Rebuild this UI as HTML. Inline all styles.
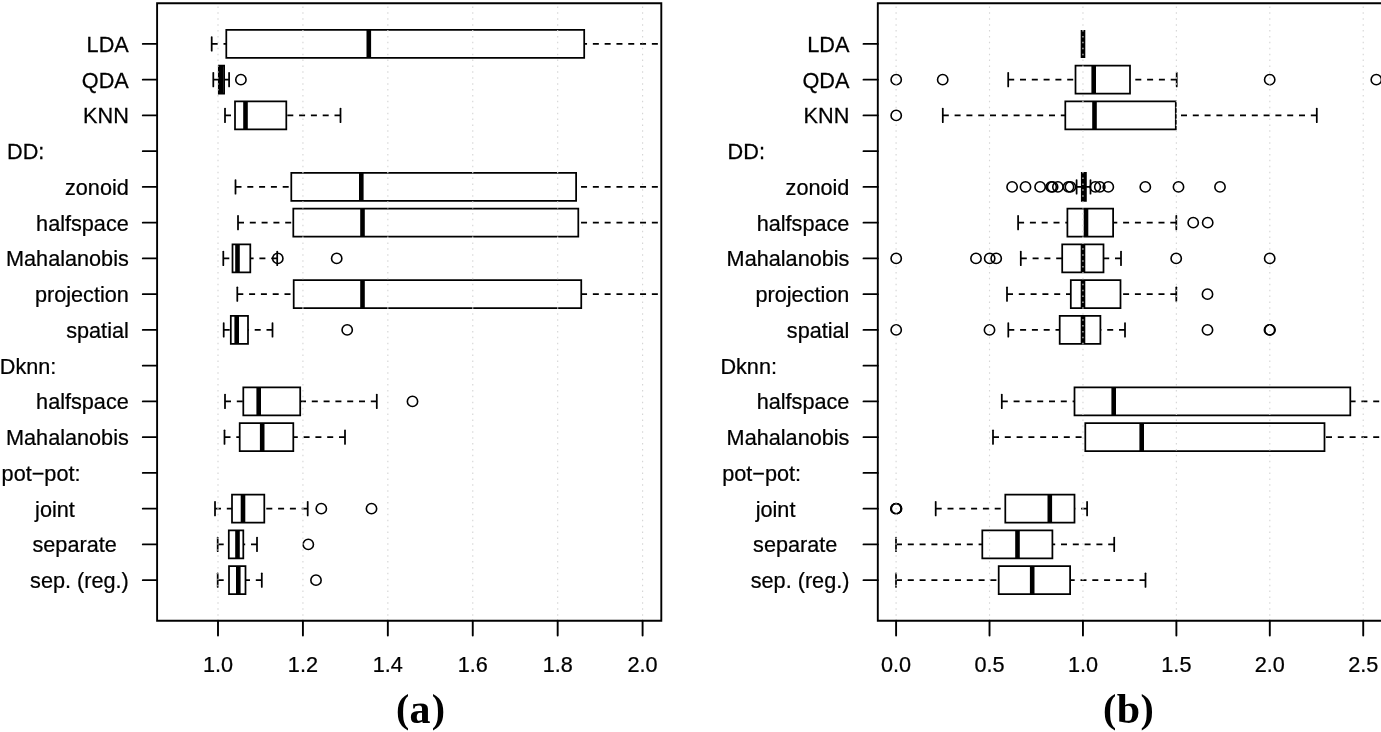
<!DOCTYPE html>
<html><head><meta charset="utf-8"><title>Boxplots</title>
<style>
html,body{margin:0;padding:0;background:#fff}
svg{display:block}
.l{fill:none;stroke:#000;stroke-width:1.75;stroke-linecap:round;stroke-linejoin:miter}
.f{stroke-width:1.9}
.o{fill:none;stroke:#000;stroke-width:1.6}
.w{fill:none;stroke:#000;stroke-width:1.75;stroke-dasharray:6 5.8}
.m{fill:none;stroke:#000;stroke-width:4.6}
.g{fill:none;stroke:#d6d6d6;stroke-width:1.15;stroke-dasharray:1.5 4.4;stroke-dashoffset:2.65}
.t{font-family:"Liberation Sans",sans-serif;font-size:22.1px;fill:#000;stroke:#000;stroke-width:0.25}
.c{font-family:"Liberation Serif",serif;font-weight:bold;font-size:42px;fill:#000}
.p{font-size:39.9px}
</style></head><body>
<svg width="1381" height="732" viewBox="0 0 1381 732">
<rect width="1381" height="732" fill="#fff"/>
<defs>
<clipPath id="cl"><rect x="157.1" y="3.2" width="504.2" height="617.6"/></clipPath>
<clipPath id="cr"><rect x="877.8" y="3.2" width="522.2" height="617.6"/></clipPath>
</defs>
<g clip-path="url(#cl)">
<path class="w" d="M211.7 43.9H226.3"/>
<path class="w" d="M669.65 43.9H584.2"/>
<path class="l" d="M211.7 37.1V50.7"/>
<path class="l" d="M226.3 29.9H584.2V57.9H226.3Z"/>
<path class="m" d="M368.8 29.9V57.9"/>
<path class="w" d="M213.3 79.65H218.8"/>
<path class="w" d="M229.1 79.65H224.1"/>
<path class="l" d="M213.3 72.85V86.45"/>
<path class="l" d="M229.1 72.85V86.45"/>
<path class="l" d="M218.8 65.65H224.1V93.65H218.8Z"/>
<path class="m" d="M221.1 65.65V93.65"/>
<circle class="o" cx="240.9" cy="79.65" r="5.15"/>
<path class="w" d="M225 115.4H235"/>
<path class="w" d="M340.5 115.4H286.3"/>
<path class="l" d="M225 108.6V122.2"/>
<path class="l" d="M340.5 108.6V122.2"/>
<path class="l" d="M235 101.4H286.3V129.4H235Z"/>
<path class="m" d="M245.5 101.4V129.4"/>
<path class="w" d="M235.5 186.9H291.3"/>
<path class="w" d="M669.65 186.9H576.1"/>
<path class="l" d="M235.5 180.1V193.7"/>
<path class="l" d="M291.3 172.9H576.1V200.9H291.3Z"/>
<path class="m" d="M361.3 172.9V200.9"/>
<path class="w" d="M238 222.65H293.3"/>
<path class="w" d="M669.65 222.65H578.3"/>
<path class="l" d="M238 215.85V229.45"/>
<path class="l" d="M293.3 208.65H578.3V236.65H293.3Z"/>
<path class="m" d="M362.5 208.65V236.65"/>
<path class="w" d="M223.3 258.4H232.5"/>
<path class="w" d="M277.2 258.4H250.3"/>
<path class="l" d="M223.3 251.6V265.2"/>
<path class="l" d="M277.2 251.6V265.2"/>
<path class="l" d="M232.5 244.4H250.3V272.4H232.5Z"/>
<path class="m" d="M237.5 244.4V272.4"/>
<circle class="o" cx="277.8" cy="258.4" r="5.15"/>
<circle class="o" cx="336.7" cy="258.4" r="5.15"/>
<path class="w" d="M237.3 294.15H293.7"/>
<path class="w" d="M669.65 294.15H581.25"/>
<path class="l" d="M237.3 287.35V300.95"/>
<path class="l" d="M293.7 280.15H581.25V308.15H293.7Z"/>
<path class="m" d="M362.5 280.15V308.15"/>
<path class="w" d="M223.7 329.9H230.8"/>
<path class="w" d="M272.5 329.9H248"/>
<path class="l" d="M223.7 323.1V336.7"/>
<path class="l" d="M272.5 323.1V336.7"/>
<path class="l" d="M230.8 315.9H248V343.9H230.8Z"/>
<path class="m" d="M236.7 315.9V343.9"/>
<circle class="o" cx="347.2" cy="329.9" r="5.15"/>
<path class="w" d="M225 401.4H243.3"/>
<path class="w" d="M376.8 401.4H300.2"/>
<path class="l" d="M225 394.6V408.2"/>
<path class="l" d="M376.8 394.6V408.2"/>
<path class="l" d="M243.3 387.4H300.2V415.4H243.3Z"/>
<path class="m" d="M258.7 387.4V415.4"/>
<circle class="o" cx="412.5" cy="401.4" r="5.15"/>
<path class="w" d="M224.5 437.15H239.7"/>
<path class="w" d="M345 437.15H293.3"/>
<path class="l" d="M224.5 430.35V443.95"/>
<path class="l" d="M345 430.35V443.95"/>
<path class="l" d="M239.7 423.15H293.3V451.15H239.7Z"/>
<path class="m" d="M262.2 423.15V451.15"/>
<path class="w" d="M215 508.65H232"/>
<path class="w" d="M307.7 508.65H264.3"/>
<path class="l" d="M215 501.85V515.45"/>
<path class="l" d="M307.7 501.85V515.45"/>
<path class="l" d="M232 494.65H264.3V522.65H232Z"/>
<path class="m" d="M243 494.65V522.65"/>
<circle class="o" cx="321.3" cy="508.65" r="5.15"/>
<circle class="o" cx="371.5" cy="508.65" r="5.15"/>
<path class="w" d="M217.7 544.4H228.8"/>
<path class="w" d="M257 544.4H243.3"/>
<path class="l" d="M217.7 537.6V551.2"/>
<path class="l" d="M257 537.6V551.2"/>
<path class="l" d="M228.8 530.4H243.3V558.4H228.8Z"/>
<path class="m" d="M237.5 530.4V558.4"/>
<circle class="o" cx="308.3" cy="544.4" r="5.15"/>
<path class="w" d="M217.7 580.15H229"/>
<path class="w" d="M261.8 580.15H245.5"/>
<path class="l" d="M217.7 573.35V586.95"/>
<path class="l" d="M261.8 573.35V586.95"/>
<path class="l" d="M229 566.15H245.5V594.15H229Z"/>
<path class="m" d="M238.3 566.15V594.15"/>
<circle class="o" cx="316" cy="580.15" r="5.15"/>
<path class="g" d="M218 3.2V620.8"/>
<path class="g" d="M302.92 3.2V620.8"/>
<path class="g" d="M387.84 3.2V620.8"/>
<path class="g" d="M472.76 3.2V620.8"/>
<path class="g" d="M557.68 3.2V620.8"/>
<path class="g" d="M642.6 3.2V620.8"/>
</g>
<g clip-path="url(#cr)">
<path class="l" d="M1083 37.1V50.7"/>
<path class="l" d="M1083 37.1V50.7"/>
<path class="l" d="M1083 29.9H1083V57.9H1083Z"/>
<path class="m" d="M1083 29.9V57.9"/>
<path class="w" d="M1008.2 79.65H1075.5"/>
<path class="w" d="M1176.7 79.65H1130"/>
<path class="l" d="M1008.2 72.85V86.45"/>
<path class="l" d="M1176.7 72.85V86.45"/>
<path class="l" d="M1075.5 65.65H1130V93.65H1075.5Z"/>
<path class="m" d="M1093.7 65.65V93.65"/>
<circle class="o" cx="896.2" cy="79.65" r="5.15"/>
<circle class="o" cx="942.7" cy="79.65" r="5.15"/>
<circle class="o" cx="1269.7" cy="79.65" r="5.15"/>
<circle class="o" cx="1376.3" cy="79.65" r="5.15"/>
<path class="w" d="M942.8 115.4H1065.3"/>
<path class="w" d="M1316.8 115.4H1175.8"/>
<path class="l" d="M942.8 108.6V122.2"/>
<path class="l" d="M1316.8 108.6V122.2"/>
<path class="l" d="M1065.3 101.4H1175.8V129.4H1065.3Z"/>
<path class="m" d="M1094.5 101.4V129.4"/>
<circle class="o" cx="896.2" cy="115.4" r="5.15"/>
<path class="w" d="M1076.6 186.9H1081.8"/>
<path class="w" d="M1090.5 186.9H1085.9"/>
<path class="l" d="M1076.6 180.1V193.7"/>
<path class="l" d="M1090.5 180.1V193.7"/>
<path class="l" d="M1081.8 172.9H1085.9V200.9H1081.8Z"/>
<path class="m" d="M1083.7 172.9V200.9"/>
<circle class="o" cx="1012.1" cy="186.9" r="5.15"/>
<circle class="o" cx="1025.5" cy="186.9" r="5.15"/>
<circle class="o" cx="1040.1" cy="186.9" r="5.15"/>
<circle class="o" cx="1051.2" cy="186.9" r="5.15"/>
<circle class="o" cx="1052.6" cy="186.9" r="5.15"/>
<circle class="o" cx="1057.9" cy="186.9" r="5.15"/>
<circle class="o" cx="1068.5" cy="186.9" r="5.15"/>
<circle class="o" cx="1070.4" cy="186.9" r="5.15"/>
<circle class="o" cx="1095.3" cy="186.9" r="5.15"/>
<circle class="o" cx="1099.8" cy="186.9" r="5.15"/>
<circle class="o" cx="1108.3" cy="186.9" r="5.15"/>
<circle class="o" cx="1145.3" cy="186.9" r="5.15"/>
<circle class="o" cx="1178.5" cy="186.9" r="5.15"/>
<circle class="o" cx="1220" cy="186.9" r="5.15"/>
<path class="w" d="M1018.1 222.65H1067.4"/>
<path class="w" d="M1176.3 222.65H1113.1"/>
<path class="l" d="M1018.1 215.85V229.45"/>
<path class="l" d="M1176.3 215.85V229.45"/>
<path class="l" d="M1067.4 208.65H1113.1V236.65H1067.4Z"/>
<path class="m" d="M1086 208.65V236.65"/>
<circle class="o" cx="1193.2" cy="222.65" r="5.15"/>
<circle class="o" cx="1207.7" cy="222.65" r="5.15"/>
<path class="w" d="M1020.8 258.4H1062.2"/>
<path class="w" d="M1121 258.4H1103.5"/>
<path class="l" d="M1020.8 251.6V265.2"/>
<path class="l" d="M1121 251.6V265.2"/>
<path class="l" d="M1062.2 244.4H1103.5V272.4H1062.2Z"/>
<path class="m" d="M1083 244.4V272.4"/>
<circle class="o" cx="896.2" cy="258.4" r="5.15"/>
<circle class="o" cx="976" cy="258.4" r="5.15"/>
<circle class="o" cx="989.7" cy="258.4" r="5.15"/>
<circle class="o" cx="996.2" cy="258.4" r="5.15"/>
<circle class="o" cx="1176.2" cy="258.4" r="5.15"/>
<circle class="o" cx="1269.7" cy="258.4" r="5.15"/>
<path class="w" d="M1007 294.15H1070.8"/>
<path class="w" d="M1176.3 294.15H1120.5"/>
<path class="l" d="M1007 287.35V300.95"/>
<path class="l" d="M1176.3 287.35V300.95"/>
<path class="l" d="M1070.8 280.15H1120.5V308.15H1070.8Z"/>
<path class="m" d="M1083 280.15V308.15"/>
<circle class="o" cx="1207.5" cy="294.15" r="5.15"/>
<path class="w" d="M1008.3 329.9H1059.7"/>
<path class="w" d="M1125 329.9H1100.4"/>
<path class="l" d="M1008.3 323.1V336.7"/>
<path class="l" d="M1125 323.1V336.7"/>
<path class="l" d="M1059.7 315.9H1100.4V343.9H1059.7Z"/>
<path class="m" d="M1083 315.9V343.9"/>
<circle class="o" cx="896.2" cy="329.9" r="5.15"/>
<circle class="o" cx="989.5" cy="329.9" r="5.15"/>
<circle class="o" cx="1207.5" cy="329.9" r="5.15"/>
<circle class="o" cx="1269.5" cy="329.9" r="5.15"/>
<circle class="o" cx="1270" cy="329.9" r="5.15"/>
<path class="w" d="M1001.8 401.4H1074.5"/>
<path class="w" d="M1391 401.4H1350.3"/>
<path class="l" d="M1001.8 394.6V408.2"/>
<path class="l" d="M1074.5 387.4H1350.3V415.4H1074.5Z"/>
<path class="m" d="M1113.7 387.4V415.4"/>
<path class="w" d="M993 437.15H1085.3"/>
<path class="w" d="M1391 437.15H1324.5"/>
<path class="l" d="M993 430.35V443.95"/>
<path class="l" d="M1085.3 423.15H1324.5V451.15H1085.3Z"/>
<path class="m" d="M1141.7 423.15V451.15"/>
<path class="w" d="M935.7 508.65H1005.3"/>
<path class="w" d="M1087.1 508.65H1074.5"/>
<path class="l" d="M935.7 501.85V515.45"/>
<path class="l" d="M1087.1 501.85V515.45"/>
<path class="l" d="M1005.3 494.65H1074.5V522.65H1005.3Z"/>
<path class="m" d="M1049.8 494.65V522.65"/>
<circle class="o" cx="895.9" cy="508.65" r="5.15"/>
<circle class="o" cx="896.2" cy="508.65" r="5.15"/>
<circle class="o" cx="896.5" cy="508.65" r="5.15"/>
<path class="w" d="M896 544.4H982.3"/>
<path class="w" d="M1114.2 544.4H1052.4"/>
<path class="l" d="M896 537.6V551.2"/>
<path class="l" d="M1114.2 537.6V551.2"/>
<path class="l" d="M982.3 530.4H1052.4V558.4H982.3Z"/>
<path class="m" d="M1017.5 530.4V558.4"/>
<path class="w" d="M896 580.15H998.7"/>
<path class="w" d="M1145.5 580.15H1070.1"/>
<path class="l" d="M896 573.35V586.95"/>
<path class="l" d="M1145.5 573.35V586.95"/>
<path class="l" d="M998.7 566.15H1070.1V594.15H998.7Z"/>
<path class="m" d="M1032.2 566.15V594.15"/>
<path class="g" d="M896.1 3.2V620.8"/>
<path class="g" d="M989.52 3.2V620.8"/>
<path class="g" d="M1082.95 3.2V620.8"/>
<path class="g" d="M1176.38 3.2V620.8"/>
<path class="g" d="M1269.8 3.2V620.8"/>
<path class="g" d="M1363.22 3.2V620.8"/>
</g>
<path class="l f" d="M157.1 3.2H661.3V620.8H157.1Z"/>
<path class="l f" d="M157.1 43.9h-14.3"/>
<path class="l f" d="M157.1 79.65h-14.3"/>
<path class="l f" d="M157.1 115.4h-14.3"/>
<path class="l f" d="M157.1 151.15h-14.3"/>
<path class="l f" d="M157.1 186.9h-14.3"/>
<path class="l f" d="M157.1 222.65h-14.3"/>
<path class="l f" d="M157.1 258.4h-14.3"/>
<path class="l f" d="M157.1 294.15h-14.3"/>
<path class="l f" d="M157.1 329.9h-14.3"/>
<path class="l f" d="M157.1 365.65h-14.3"/>
<path class="l f" d="M157.1 401.4h-14.3"/>
<path class="l f" d="M157.1 437.15h-14.3"/>
<path class="l f" d="M157.1 472.9h-14.3"/>
<path class="l f" d="M157.1 508.65h-14.3"/>
<path class="l f" d="M157.1 544.4h-14.3"/>
<path class="l f" d="M157.1 580.15h-14.3"/>
<path class="l f" d="M218 620.8v14.8"/>
<text class="t" transform="translate(218 671.6) scale(0.98 1)" text-anchor="middle">1.0</text>
<path class="l f" d="M302.92 620.8v14.8"/>
<text class="t" transform="translate(302.92 671.6) scale(0.98 1)" text-anchor="middle">1.2</text>
<path class="l f" d="M387.84 620.8v14.8"/>
<text class="t" transform="translate(387.84 671.6) scale(0.98 1)" text-anchor="middle">1.4</text>
<path class="l f" d="M472.76 620.8v14.8"/>
<text class="t" transform="translate(472.76 671.6) scale(0.98 1)" text-anchor="middle">1.6</text>
<path class="l f" d="M557.68 620.8v14.8"/>
<text class="t" transform="translate(557.68 671.6) scale(0.98 1)" text-anchor="middle">1.8</text>
<path class="l f" d="M642.6 620.8v14.8"/>
<text class="t" transform="translate(642.6 671.6) scale(0.98 1)" text-anchor="middle">2.0</text>
<path class="l f" d="M877.8 3.2H1400V620.8H877.8Z"/>
<path class="l f" d="M877.8 43.9h-14.3"/>
<path class="l f" d="M877.8 79.65h-14.3"/>
<path class="l f" d="M877.8 115.4h-14.3"/>
<path class="l f" d="M877.8 151.15h-14.3"/>
<path class="l f" d="M877.8 186.9h-14.3"/>
<path class="l f" d="M877.8 222.65h-14.3"/>
<path class="l f" d="M877.8 258.4h-14.3"/>
<path class="l f" d="M877.8 294.15h-14.3"/>
<path class="l f" d="M877.8 329.9h-14.3"/>
<path class="l f" d="M877.8 365.65h-14.3"/>
<path class="l f" d="M877.8 401.4h-14.3"/>
<path class="l f" d="M877.8 437.15h-14.3"/>
<path class="l f" d="M877.8 472.9h-14.3"/>
<path class="l f" d="M877.8 508.65h-14.3"/>
<path class="l f" d="M877.8 544.4h-14.3"/>
<path class="l f" d="M877.8 580.15h-14.3"/>
<path class="l f" d="M896.1 620.8v14.8"/>
<text class="t" transform="translate(896.1 671.6) scale(0.98 1)" text-anchor="middle">0.0</text>
<path class="l f" d="M989.52 620.8v14.8"/>
<text class="t" transform="translate(989.52 671.6) scale(0.98 1)" text-anchor="middle">0.5</text>
<path class="l f" d="M1082.95 620.8v14.8"/>
<text class="t" transform="translate(1082.95 671.6) scale(0.98 1)" text-anchor="middle">1.0</text>
<path class="l f" d="M1176.38 620.8v14.8"/>
<text class="t" transform="translate(1176.38 671.6) scale(0.98 1)" text-anchor="middle">1.5</text>
<path class="l f" d="M1269.8 620.8v14.8"/>
<text class="t" transform="translate(1269.8 671.6) scale(0.98 1)" text-anchor="middle">2.0</text>
<path class="l f" d="M1363.22 620.8v14.8"/>
<text class="t" transform="translate(1363.22 671.6) scale(0.98 1)" text-anchor="middle">2.5</text>
<text class="t" style="font-size:22.9px" transform="translate(128.8 52) scale(0.948 1)" text-anchor="end">LDA</text>
<text class="t" style="font-size:22.9px" transform="translate(128.8 88) scale(0.948 1)" text-anchor="end">QDA</text>
<text class="t" style="font-size:22.9px" transform="translate(128.8 123) scale(0.948 1)" text-anchor="end">KNN</text>
<text class="t" style="font-size:22.9px" transform="translate(7 159) scale(0.948 1)">DD:</text>
<text class="t" transform="translate(128.8 195) scale(0.98 1)" text-anchor="end">zonoid</text>
<text class="t" transform="translate(128.8 231) scale(0.98 1)" text-anchor="end">halfspace</text>
<text class="t" transform="translate(128.8 266) scale(0.98 1)" text-anchor="end">Mahalanobis</text>
<text class="t" transform="translate(128.8 302) scale(0.98 1)" text-anchor="end">projection</text>
<text class="t" transform="translate(128.8 338) scale(0.98 1)" text-anchor="end">spatial</text>
<text class="t" transform="translate(-0.2 374) scale(0.98 1)">Dknn:</text>
<text class="t" transform="translate(128.8 409) scale(0.98 1)" text-anchor="end">halfspace</text>
<text class="t" transform="translate(128.8 445) scale(0.98 1)" text-anchor="end">Mahalanobis</text>
<text class="t" transform="translate(1.6 481) scale(0.98 1)">pot−pot:</text>
<text class="t" transform="translate(35.1 517) scale(0.98 1)">joint</text>
<text class="t" transform="translate(32.5 552) scale(0.98 1)">separate</text>
<text class="t" transform="translate(128.8 588) scale(0.98 1)" text-anchor="end">sep. (reg.)</text>
<text class="t" style="font-size:22.9px" transform="translate(849.4 52) scale(0.948 1)" text-anchor="end">LDA</text>
<text class="t" style="font-size:22.9px" transform="translate(849.4 88) scale(0.948 1)" text-anchor="end">QDA</text>
<text class="t" style="font-size:22.9px" transform="translate(849.4 123) scale(0.948 1)" text-anchor="end">KNN</text>
<text class="t" style="font-size:22.9px" transform="translate(727.6 159) scale(0.948 1)">DD:</text>
<text class="t" transform="translate(849.4 195) scale(0.98 1)" text-anchor="end">zonoid</text>
<text class="t" transform="translate(849.4 231) scale(0.98 1)" text-anchor="end">halfspace</text>
<text class="t" transform="translate(849.4 266) scale(0.98 1)" text-anchor="end">Mahalanobis</text>
<text class="t" transform="translate(849.4 302) scale(0.98 1)" text-anchor="end">projection</text>
<text class="t" transform="translate(849.4 338) scale(0.98 1)" text-anchor="end">spatial</text>
<text class="t" transform="translate(720.4 374) scale(0.98 1)">Dknn:</text>
<text class="t" transform="translate(849.4 409) scale(0.98 1)" text-anchor="end">halfspace</text>
<text class="t" transform="translate(849.4 445) scale(0.98 1)" text-anchor="end">Mahalanobis</text>
<text class="t" transform="translate(722.2 481) scale(0.98 1)">pot−pot:</text>
<text class="t" transform="translate(755.7 517) scale(0.98 1)">joint</text>
<text class="t" transform="translate(753.1 552) scale(0.98 1)">separate</text>
<text class="t" transform="translate(849.4 588) scale(0.98 1)" text-anchor="end">sep. (reg.)</text>
<text class="c" y="723"><tspan class="p" x="396.05" y="721.6">(</tspan><tspan x="409.45" y="723">a</tspan><tspan class="p" x="431.7" y="721.6">)</tspan></text>
<text class="c" y="723"><tspan class="p" x="1103" y="721.6">(</tspan><tspan x="1116.8" y="723">b</tspan><tspan class="p" x="1140.6" y="721.6">)</tspan></text>
</svg>
</body></html>
